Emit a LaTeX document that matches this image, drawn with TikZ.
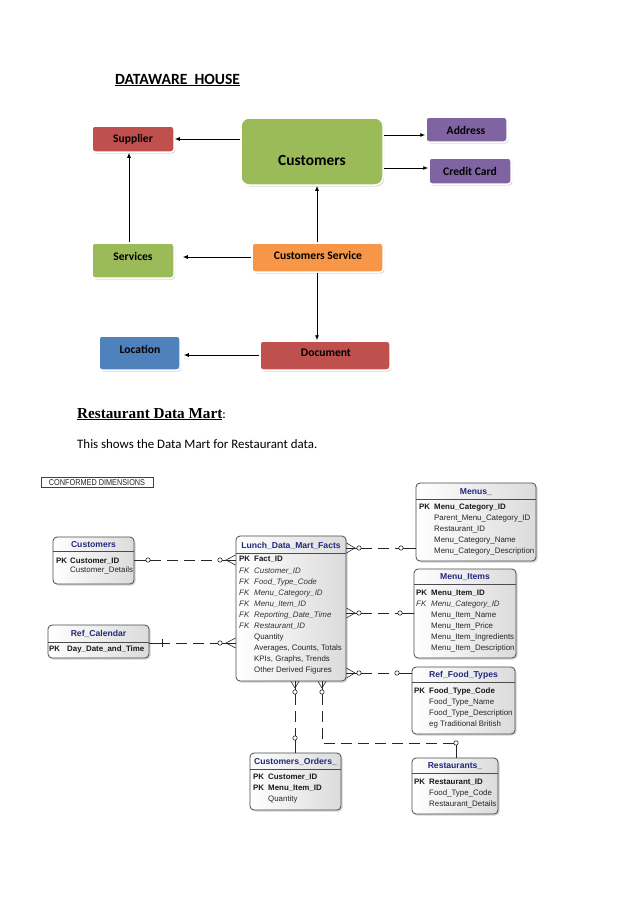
\documentclass[tikz,border=0pt]{standalone}
\usepackage{fontspec}
\setmainfont{Carlito}
\newfontfamily\ersans{Liberation Sans}
\newfontfamily\ersansN[FakeStretch=0.85]{Liberation Sans}
\newfontfamily\hdserif{Liberation Serif}
\usetikzlibrary{arrows.meta,shadows,calc}
\definecolor{cRed}{HTML}{C0504D}
\definecolor{cGreen}{HTML}{9BBB59}
\definecolor{cPurple}{HTML}{8064A2}
\definecolor{cOrange}{HTML}{F79646}
\definecolor{cBlue}{HTML}{4F81BD}
\definecolor{navy}{RGB}{35,40,125}
\tikzset{
  wbox/.style={rectangle, rounded corners=3pt, draw=white, line width=1.5pt,
    drop shadow={shadow xshift=1.2pt, shadow yshift=-1.5pt, opacity=0.3}, inner sep=0pt},
  lbl/.style={font=\bfseries\fontsize{11.6}{13}\selectfont, text=black},
  arr/.style={-{Latex[length=5pt,width=4pt]}, line width=0.8pt, black},
  ent/.style={rectangle, rounded corners=4pt, draw=black!70, line width=0.8pt,
    left color=white, right color=black!14,
    drop shadow={shadow xshift=1.5pt, shadow yshift=-1.5pt, opacity=0.35}, inner sep=0pt},
  et/.style={font=\ersans\bfseries\fontsize{8.6}{10}\selectfont, text=navy},
  ek/.style={anchor=base west, inner sep=0pt, font=\ersans\bfseries\fontsize{7.9}{9}\selectfont, text=black!90},
  efk/.style={anchor=base west, inner sep=0pt, font=\ersans\itshape\fontsize{7.9}{9}\selectfont, text=black!80},
  ea/.style={anchor=base west, inner sep=0pt, font=\ersans\fontsize{7.9}{9}\selectfont, text=black!85},
  sepl/.style={line width=0.6pt, black!70},
  ln/.style={line width=0.6pt, black!85},
  dl/.style={ln, dash pattern=on 11pt off 6pt},
}
\begin{document}
\begin{tikzpicture}[x=1pt,y=-1pt]
\useasboundingbox[fill=white] (0,0) rectangle (638,902);

% ---------- Title ----------
\node[anchor=base west, inner sep=0pt, font=\bfseries\fontsize{15.6}{18}\selectfont] (title) at (115,84) {\underline{DATAWARE\ \ HOUSE}};

% ---------- Top diagram boxes ----------
\node[wbox, fill=cRed, minimum width=82, minimum height=26] (sup) at (133,139) {};
\node[wbox, fill=cGreen, rounded corners=8pt, minimum width=142, minimum height=67] (cust) at (312,151.5) {};
\node[wbox, fill=cPurple, minimum width=81, minimum height=25] (addr) at (466.5,129.5) {};
\node[wbox, fill=cPurple, minimum width=82, minimum height=26] (cc) at (470,171) {};
\node[wbox, fill=cGreen, minimum width=82, minimum height=35] (serv) at (133,260.5) {};
\node[wbox, fill=cOrange, minimum width=131, minimum height=29] (cs) at (317.5,257.5) {};
\node[wbox, fill=cBlue, minimum width=81, minimum height=34] (loc) at (139.5,353) {};
\node[wbox, fill=cRed, minimum width=130, minimum height=29] (doc) at (325,355.5) {};

\node[lbl] (supT) at (133,139) {Supplier};
\node[lbl, font=\bfseries\fontsize{15.4}{18}\selectfont] (custT) at (312,161) {Customers};
\node[lbl] (addrT) at (466,130) {Address};
\node[lbl] (ccT) at (470,171) {Credit Card};
\node[lbl] (servT) at (133,256) {Services};
\node[lbl] (csT) at (318,255) {Customers Service};
\node[lbl] (locT) at (140,349) {Location};
\node[lbl] (docT) at (326,353) {Document};

% ---------- Top arrows ----------
\draw[arr] (cust.west |- 0,139) -- (sup.east |- 0,139);
\draw[arr] (cust.east |- 0,135) -- (addr.west |- 0,135);
\draw[arr] (cust.east |- 0,168) -- (cc.west |- 0,168);
\draw[arr] (cs.north -| 317,0) -- (cust.south -| 317,0);
\draw[arr] (serv.north -| 129,0) -- (sup.south -| 129,0);
\draw[arr] (cs.west |- 0,257) -- ($(serv.east |- 0,257)+(8,0)$);
\draw[arr] (cs.south -| 317,0) -- (doc.north -| 317,0);
\draw[arr] (doc.west |- 0,355) -- ($(loc.east |- 0,355)+(3,0)$);

% ---------- Section text ----------
\node[anchor=base west, inner sep=0pt, font=\hdserif\bfseries\fontsize{15.2}{18}\selectfont] (sec) at (77,418) {\underline{Restaurant Data Mart}{\normalfont\fontsize{12.9}{14}\selectfont:}};
\node[anchor=base west, inner sep=0pt, font=\fontsize{12.9}{15}\selectfont] (body) at (77,448) {This shows the Data Mart for Restaurant data.};

% ---------- ER diagram ----------
\node[draw=black!75, line width=0.9pt, minimum width=112, minimum height=9.5, inner sep=0pt,
  font=\ersansN\fontsize{8.6}{9}\selectfont, text=black!85] (conf) at (97,482.5) {CONFORMED DIMENSIONS};

% entities
\node[ent, minimum width=81, minimum height=47] (custE) at (93.5,560.5) {};
\node[ent, minimum width=110, minimum height=145] (facts) at (291,608.5) {};
\node[ent, minimum width=101, minimum height=33] (cal) at (98.5,641.5) {};
\node[ent, minimum width=120, minimum height=78] (menus) at (476,522) {};
\node[ent, minimum width=102, minimum height=89] (mitems) at (465,613.5) {};
\node[ent, minimum width=103, minimum height=67] (rft) at (463.5,700.5) {};
\node[ent, minimum width=91, minimum height=57] (orders) at (295.5,781.5) {};
\node[ent, minimum width=86, minimum height=56] (rest) at (455,786) {};

% separators
\draw[sepl] (custE.west |- 0,551) -- (custE.east |- 0,551);
\draw[sepl] (facts.west |- 0,553) -- (facts.east |- 0,553);
\draw[sepl] (cal.west |- 0,642) -- (cal.east |- 0,642);
\draw[sepl] (menus.west |- 0,499) -- (menus.east |- 0,499);
\draw[sepl] (mitems.west |- 0,584) -- (mitems.east |- 0,584);
\draw[sepl] (rft.west |- 0,682) -- (rft.east |- 0,682);
\draw[sepl] (orders.west |- 0,769) -- (orders.east |- 0,769);
\draw[sepl] (rest.west |- 0,773) -- (rest.east |- 0,773);

% Customers
\node[et] at (93.5,545) {Customers};
\node[ek] at (56,563.9) {PK};
\node[ek] at (70,563.9) {Customer\_ID};
\node[ea] at (70,572.9) {Customer\_Details};

% Facts
\node[et] at (291,546) {Lunch\_Data\_Mart\_Facts};
\node[ek] at (239,561.9) {PK};
\node[ek] at (254,561.9) {Fact\_ID};
\node[efk] at (239,573.0) {FK};
\node[efk] at (254,573.0) {Customer\_ID};
\node[efk] at (239,584.1) {FK};
\node[efk] at (254,584.1) {Food\_Type\_Code};
\node[efk] at (239,595.2) {FK};
\node[efk] at (254,595.2) {Menu\_Category\_ID};
\node[efk] at (239,606.3) {FK};
\node[efk] at (254,606.3) {Menu\_Item\_ID};
\node[efk] at (239,617.4) {FK};
\node[efk] at (254,617.4) {Reporting\_Date\_Time};
\node[efk] at (239,628.5) {FK};
\node[efk] at (254,628.5) {Restaurant\_ID};
\node[ea] at (254,639.6) {Quantity};
\node[ea] at (254,650.7) {Averages, Counts, Totals};
\node[ea] at (254,661.8) {KPIs, Graphs, Trends};
\node[ea] at (254,672.9) {Other Derived Figures};

% Ref_Calendar
\node[et] at (98.5,634) {Ref\_Calendar};
\node[ek] at (49,651.9) {PK};
\node[ek] at (67,651.9) {Day\_Date\_and\_Time};

% Menus_
\node[et] at (476,492) {Menus\_};
\node[ek] at (419,509.9) {PK};
\node[ek] at (434,509.9) {Menu\_Category\_ID};
\node[ea] at (434,520.9) {Parent\_Menu\_Category\_ID};
\node[ea] at (434,531.9) {Restaurant\_ID};
\node[ea] at (434,542.9) {Menu\_Category\_Name};
\node[ea] at (434,553.9) {Menu\_Category\_Description};

% Menu_Items
\node[et] at (465,577) {Menu\_Items};
\node[ek] at (416,595.9) {PK};
\node[ek] at (431,595.9) {Menu\_Item\_ID};
\node[efk] at (416,606.9) {FK};
\node[efk] at (431,606.9) {Menu\_Category\_ID};
\node[ea] at (431,617.9) {Menu\_Item\_Name};
\node[ea] at (431,628.9) {Menu\_Item\_Price};
\node[ea] at (431,639.9) {Menu\_Item\_Ingredients};
\node[ea] at (431,650.9) {Menu\_Item\_Description};

% Ref_Food_Types
\node[et] at (463.5,675) {Ref\_Food\_Types};
\node[ek] at (414,693.9) {PK};
\node[ek] at (429,693.9) {Food\_Type\_Code};
\node[ea] at (429,704.9) {Food\_Type\_Name};
\node[ea] at (429,715.9) {Food\_Type\_Description};
\node[ea] at (429,726.9) {eg Traditional British};

% Customers_Orders_
\node[et] at (295.5,762) {Customers\_Orders\_};
\node[ek] at (253,779.9) {PK};
\node[ek] at (268,779.9) {Customer\_ID};
\node[ek] at (253,790.9) {PK};
\node[ek] at (268,790.9) {Menu\_Item\_ID};
\node[ea] at (268,801.9) {Quantity};

% Restaurants_
\node[et] at (455,766) {Restaurants\_};
\node[ek] at (414,784.9) {PK};
\node[ek] at (429,784.9) {Restaurant\_ID};
\node[ea] at (429,795.9) {Food\_Type\_Code};
\node[ea] at (429,806.9) {Restaurant\_Details};

% ---------- ER connectors ----------
% Customers -- Facts
\draw[ln] (custE.east |- 0,560) -- (145.8,560);
\draw[ln, fill=white] (148,560) circle[radius=2.2];
\draw[dl] (150.2,560) -- (217.8,560);
\draw[ln, fill=white] (220,560) circle[radius=2.2];
\draw[ln] (222.2,560) -- (226,560);
\draw[ln] (facts.west |- 0,555) -- (226,560) -- (facts.west |- 0,565);
\draw[ln] (226,560) -- (facts.west |- 0,560);

% Ref_Calendar -- Facts
\draw[ln] (cal.east |- 0,643) -- (170,643);
\draw[ln] (162,639) -- (162,647);
\draw[dl] (176,643) -- (217.8,643);
\draw[ln, fill=white] (220,643) circle[radius=2.2];
\draw[ln] (222.2,643) -- (226,643);
\draw[ln] (facts.west |- 0,638) -- (226,643) -- (facts.west |- 0,648);
\draw[ln] (226,643) -- (facts.west |- 0,643);

% Facts -- Menus_
\draw[ln] (facts.east |- 0,543) -- (355,548) -- (facts.east |- 0,553);
\draw[ln] (facts.east |- 0,548) -- (356.8,548);
\draw[ln, fill=white] (359,548) circle[radius=2.2];
\draw[dl] (361.2,548) -- (398.8,548);
\draw[ln, fill=white] (401,548) circle[radius=2.2];
\draw[ln] (403.2,548) -- (menus.west |- 0,548);

% Facts -- Menu_Items
\draw[ln] (facts.east |- 0,608) -- (355,613) -- (facts.east |- 0,618);
\draw[ln] (facts.east |- 0,613) -- (356.8,613);
\draw[ln, fill=white] (359,613) circle[radius=2.2];
\draw[dl] (361.2,613) -- (397.8,613);
\draw[ln, fill=white] (400,613) circle[radius=2.2];
\draw[ln] (402.2,613) -- (mitems.west |- 0,613);

% Facts -- Ref_Food_Types
\draw[ln] (facts.east |- 0,668) -- (355,673) -- (facts.east |- 0,678);
\draw[ln] (facts.east |- 0,673) -- (356.8,673);
\draw[ln, fill=white] (359,673) circle[radius=2.2];
\draw[dl] (361.2,673) -- (394.8,673);
\draw[ln, fill=white] (397,673) circle[radius=2.2];
\draw[ln] (399.2,673) -- (rft.west |- 0,673);

% Facts -- Customers_Orders_
\draw[ln] (facts.south -| 291,0) -- (295,688) -- (facts.south -| 299,0);
\draw[ln] (facts.south -| 295,0) -- (295,689.8);
\draw[ln, fill=white] (295,692) circle[radius=2.2];
\draw[dl] (295,694.2) -- (295,735.8);
\draw[ln, fill=white] (295,738) circle[radius=2.2];
\draw[ln] (295,740.2) -- (orders.north -| 295,0);

% Facts -- Restaurants_
\draw[ln] (facts.south -| 318,0) -- (322,688) -- (facts.south -| 326,0);
\draw[ln] (facts.south -| 322,0) -- (322,689.8);
\draw[ln, fill=white] (322,692) circle[radius=2.2];
\draw[dl] (322,694.2) -- (322,743) -- (453.8,743);
\draw[ln, fill=white] (456,743) circle[radius=2.2];
\draw[ln] (456,745.2) -- (rest.north -| 456,0);

\end{tikzpicture}
\end{document}
